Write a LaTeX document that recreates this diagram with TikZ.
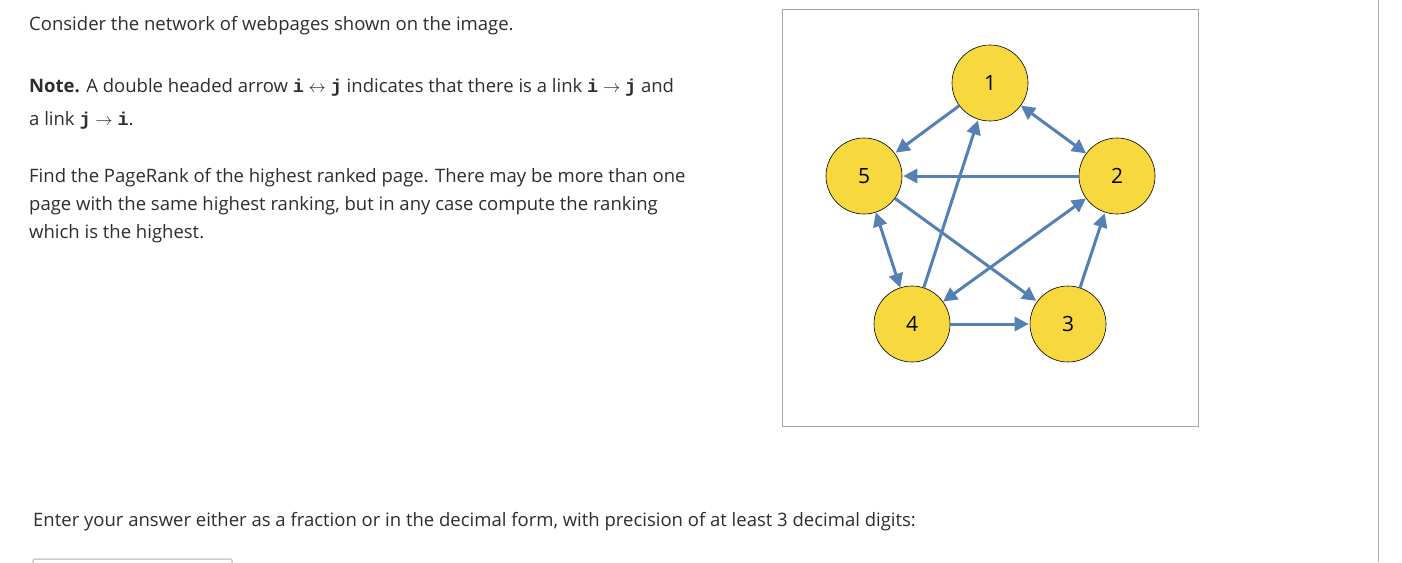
\documentclass[tikz,border=0pt]{standalone}
\usepackage{fontspec}
\setmainfont{Open Sans}
\setmonofont{Liberation Mono}
\usetikzlibrary{arrows.meta}
\definecolor{txt}{HTML}{2D2D2D}
\definecolor{edge}{HTML}{5580B3}
\definecolor{nodey}{HTML}{F7D93F}
\newcommand{\cd}[1]{{\ttfamily\bfseries #1}}
\tikzset{
 pg/.style={circle,draw=black,line width=0.6pt,fill=nodey,minimum size=76pt,inner sep=0pt,font=\fontsize{21}{24}\selectfont},
 ln/.style={anchor=base west,inner sep=0pt,text=txt,font=\fontsize{18.5}{24}\selectfont},
 ed/.style={draw=edge,line width=3pt,-{Triangle[length=14pt,width=14pt]},shorten >=1pt},
 bed/.style={draw=edge,line width=3pt,{Triangle[length=14pt,width=14pt]}-{Triangle[length=14pt,width=14pt]}}
}
\begin{document}
\begin{tikzpicture}[x=1pt,y=-1pt]
\useasboundingbox (0,0) rectangle (1402,562);
\draw[gray!60] (1378,0) -- (1378,562);
\node[ln] (t1) at (29,30) {Consider the network of webpages shown on the image.};
\node[ln] (t2) at (29,92) {\textbf{Note.} A double headed arrow \cd{i} $\leftrightarrow$ \cd{j} indicates that there is a link \cd{i} $\rightarrow$ \cd{j} and};
\node[ln] (t3) at (29,125) {a link \cd{j} $\rightarrow$ \cd{i}.};
\node[ln] (t4) at (29,182) {Find the PageRank of the highest ranked page. There may be more than one};
\node[ln] (t5) at (29,210) {page with the same highest ranking, but in any case compute the ranking};
\node[ln] (t6) at (29,238) {which is the highest.};
\node[ln] (t7) at (33,526) {Enter your answer either as a fraction or in the decimal form, with precision of at least 3 decimal digits:};
\draw[gray!40,line width=1.5pt,rounded corners=2pt] (33,570) -- (33,559) -- (232,559) -- (232,570);
\draw[gray!70] (782,9) rectangle (1198,426);
\node[pg] (n1) at (990,83) {1};
\node[pg] (n2) at (1117,176) {2};
\node[pg] (n3) at (1068,324) {3};
\node[pg] (n4) at (912,324) {4};
\node[pg] (n5) at (864,176) {5};
\begin{scope}[on background layer/.try]
\end{scope}
\draw[ed] (n1) -- (n5);
\draw[bed] (n1) -- (n2);
\draw[ed] (n2) -- (n5);
\draw[ed] (n4) -- (n1);
\draw[bed] (n5) -- (n4);
\draw[ed] (n5) -- (n3);
\draw[bed] (n4) -- (n2);
\draw[ed] (n4) -- (n3);
\draw[ed] (n3) -- (n2);
\end{tikzpicture}
\end{document}
